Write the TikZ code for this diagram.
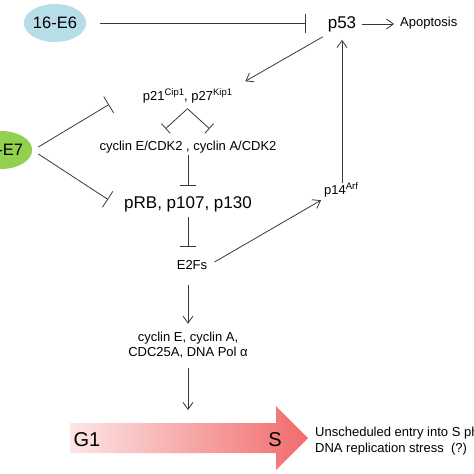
\documentclass[tikz,border=0pt]{standalone}
\usepackage{fontspec}
\setmainfont{Liberation Sans}
\usetikzlibrary{arrows.meta,shapes.geometric}
\definecolor{lineg}{HTML}{383838}
\definecolor{e6blue}{HTML}{B7DDE8}
\definecolor{e7green}{HTML}{92D050}
\definecolor{pinkL}{HTML}{FDE6E6}
\definecolor{pinkR}{HTML}{F06B6B}
\newcommand{\mysup}[1]{\raisebox{0.42em}{\fontsize{9.5}{10}\selectfont #1}}
\begin{document}
\begin{tikzpicture}[x=1pt,y=-1pt,
  conn/.style={draw=lineg, line width=0.8pt},
  arr/.style={conn,-{Straight Barb[length=7pt,width=10pt]}},
  inhL/.style={conn,-{Bar[width=19pt]}},
  inhM/.style={conn,-{Bar[width=16pt]}},
  inhS/.style={conn,-{Bar[width=13pt]}},
  lbl/.style={inner sep=2pt, text=black},
  f13/.style={lbl,font=\fontsize{13}{15}\selectfont},
  f17/.style={lbl,font=\fontsize{17}{20}\selectfont},
  f20/.style={lbl,font=\fontsize{20}{24}\selectfont},
  oval/.style={ellipse, minimum width=60pt, minimum height=38pt, inner sep=0pt, font=\fontsize{16.5}{19}\selectfont}
]
\useasboundingbox (0,0) rectangle (474,474);
\clip (0,0) rectangle (474,474);
% big gradient arrow
\shade[left color=pinkL, right color=pinkR] (70,423) -- (276,423) -- (276,406) -- (308,438) -- (276,470) -- (276,453) -- (70,453) -- cycle;
\node[f20] (g1) at (87,440) {G1};
\node[f20] (s) at (275,440) {S};
\coordinate (g1top) at (188,410);
% nodes
\node[oval, fill=e6blue] (e6) at (55,23) {16-E6};
\node[oval, fill=e7green] (e7) at (1,150) {16-E7};
\node[f17] (p53) at (342,24) {p53};
\node[f13, anchor=west] (apop) at (398,23) {Apoptosis};
\node[f13] (p21) at (187.5,96) {p21\mysup{Cip1}, p27\mysup{Kip1}};
\node[f13] (cyc) at (188,147) {cyclin E/CDK2 , cyclin A/CDK2};
\node[f17] (prb) at (188,204) {pRB, p107, p130};
\node[f13] (e2f) at (192,265) {E2Fs};
\node[f13] (p14) at (341,190) {p14\mysup{Arf}};
\node[f13, align=center] (cyce) at (188,345) {cyclin E, cyclin A,\\CDC25A, DNA Pol α};
\node[lbl, anchor=west, align=left, font=\fontsize{13}{16}\selectfont] (out) at (313,441) {Unscheduled entry into S phase\\DNA replication stress~~(?)};
\coordinate (e7a) at (109,104.5);
\coordinate (e7b) at (108,199.5);
% connectors
\draw[inhL, shorten <=14pt, shorten >=20pt] (e6.east) -- (e6.east -| p53.west);
\draw[arr, shorten <=4pt, shorten >=4pt] (p53.east) -- (p53.east -| apop.west);
\draw[arr] ([xshift=-3pt,yshift=-3pt]p53.south west) -- ([xshift=11pt,yshift=5pt]p21.north east);
\coordinate (fork) at ([yshift=-3pt]p21.south);
\draw[inhS] (fork) -- ++(-22,20);
\draw[inhS] (fork) -- ++(22,20);
\draw[inhM, shorten >=8pt] (cyc) -- (prb);
\draw[inhM, shorten <=3pt, shorten >=11pt] (prb.south) -- (prb.south |- e2f.north);
\draw[arr, shorten <=6pt, shorten >=1pt] (e2f.east) -- (p14.south west);
\draw[arr, shorten <=-3pt, shorten >=6pt] (p14.north -| p53.south) -- (p53.south);
\draw[inhL] ([xshift=6pt,yshift=3pt]e7.east) -- (e7a);
\draw[inhL] ([xshift=6pt,yshift=-4pt]e7.east) -- (e7b);
\draw[arr, shorten <=13pt, shorten >=6pt] (e2f.south -| cyce.north) -- (cyce.north);
\draw[arr, shorten <=8pt] (cyce.south) -- (g1top);
\end{tikzpicture}
\end{document}
